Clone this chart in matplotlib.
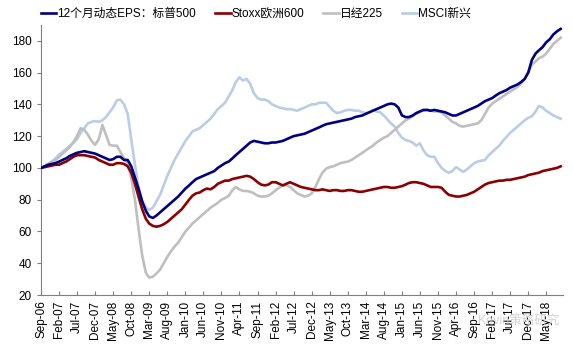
import matplotlib
matplotlib.use("Agg")
import matplotlib.pyplot as plt
import pandas as pd

# monthly values, Sep-06 .. Sep-18 (index 100 = Sep-06)
start = "2006-09-01"

sp500 = [100, 101, 102, 102.5, 103, 104, 105, 106, 107.5, 108.5,
         109.5, 110, 110.5, 110, 109.5, 109, 108, 107, 106, 105,
         105.5, 107, 107, 105, 105, 101, 94, 87, 79, 73,
         69.5, 68.5, 70, 72, 74, 76, 78, 80, 82, 84.5,
         87, 89, 91, 93, 94, 95, 96, 97, 98, 100,
         101.5, 103, 104, 106, 108, 110, 112, 114, 116, 117,
         116.5, 116, 115.5, 115.5, 116, 116, 116.5, 117, 118, 119,
         120, 120.5, 121, 121.5, 122.5, 123.5, 124.5, 125.5, 126.5, 127.5,
         128, 128.5, 129, 129.5, 130, 130.5, 131, 132, 132.5, 133,
         134, 135, 136, 137, 138, 139, 140, 140.5, 140, 138,
         133, 132, 132, 133, 134.5, 135.5, 136.5, 136.5, 136, 136.5,
         136, 135.5, 135, 134, 133, 133, 134, 135, 136, 137,
         138, 139, 140.5, 142, 143, 144, 145.5, 147, 148, 149,
         150.5, 151.5, 152.5, 154, 156, 160, 168, 172, 174, 176,
         179, 181, 184, 186, 187.5]

stoxx600 = [100, 100.5, 101, 101.5, 102, 102, 103, 104, 105.5, 107,
            108, 108, 108, 107.5, 107, 106.5, 105, 104, 103, 102,
            102, 103, 103, 102.5, 101, 97, 90, 82, 74, 68,
            65, 63.5, 63, 63.5, 64.5, 66, 68, 70, 72, 74,
            77, 80, 82.5, 84, 84.5, 86, 87, 86.5, 88, 90,
            91, 92, 92, 93, 93.5, 94, 94.5, 95, 94.5, 93,
            91, 89.5, 89, 89.5, 91, 91, 90, 89, 90, 91,
            90, 89, 88, 87.5, 87, 86.5, 86, 86, 86.5, 86,
            85.5, 86, 86, 85.5, 85.5, 86, 86, 85.5, 85, 85,
            85.5, 86, 86.5, 87, 87.5, 88, 88, 87.5, 87.5, 88,
            88.5, 89.5, 90.5, 91, 91, 90.5, 90, 89, 88, 88,
            88, 87.5, 85, 83, 82.5, 82, 82, 82.5, 83, 84,
            85, 86.5, 88, 89.5, 90.5, 91, 91.5, 92, 92, 92.5,
            92.5, 93, 93.5, 94, 94.5, 95.5, 96, 96.5, 97, 98,
            98.5, 99, 99.5, 100, 101]

nikkei225 = [100, 101, 102.5, 104, 105, 107, 109, 111, 113, 116,
             120, 125, 124, 121, 117, 114.5, 118, 127, 121, 114.5,
             114, 114, 110, 106, 103, 94, 80, 62, 45, 34,
             31, 31.5, 33.5, 36, 40, 44, 47.5, 50.5, 53, 56.5,
             60, 62.5, 65, 67, 69, 71, 73, 75, 76.5, 78,
             80, 81, 82.5, 86, 88, 86.5, 85.5, 85.5, 85, 84,
             82.5, 82, 82, 82.5, 84, 86, 87.5, 89, 89, 88,
             86, 84, 83, 82, 82.5, 84, 88, 93, 97, 99.5,
             100.5, 101, 102, 103, 103.5, 104, 105, 106.5, 108, 109.5,
             111, 112.5, 114, 116, 117.5, 119, 120, 122, 124, 126,
             128, 130, 131, 132.5, 134, 135.5, 136, 136.5, 136, 135.5,
             135.5, 135, 133, 131, 129, 128, 126.5, 126, 126.5, 127,
             127.5, 128, 130, 134, 138, 140.5, 142, 143.5, 145, 146.5,
             148, 149.5, 151, 153, 156, 160, 165, 167, 169, 170,
             172, 175, 178, 180, 182]

msci_em = [100, 101, 102.5, 104, 106, 108.5, 110, 112, 114, 116,
           118, 122, 125, 128, 129, 129.5, 129, 130, 132, 135,
           138, 142.5, 143, 140, 134, 118, 102, 88, 79, 75,
           73.5, 75, 79, 83, 89, 95, 100, 105, 109, 113,
           117, 120, 123, 124, 125, 127, 129, 131, 134, 137,
           139, 141, 145, 149, 154, 157, 155, 156, 153, 147,
           144, 143, 143, 142, 140, 139, 138, 137.5, 137, 137,
           136.5, 136, 137, 138, 139, 140, 140, 141, 141, 141,
           138.5, 136, 134.5, 135, 136, 136.5, 136.5, 136, 136, 135,
           134.5, 135, 136.5, 135.5, 135, 133, 130.5, 128, 126, 122,
           119, 117.5, 117, 116, 114, 115.5, 111, 108, 107, 107,
           103, 100, 98, 97, 98, 100.5, 99, 97.5, 99, 101,
           103, 104, 104.5, 105, 108, 110, 112, 114, 117, 119.5,
           122, 124, 126, 128, 130, 131.5, 132.5, 135.5, 139, 138,
           136, 134.5, 133, 132, 131]

labels = ["12个月动态EPS：标普500", "Stoxx欧洲600", "日经225", "MSCI新兴"]
colors = ["#000080", "#8B0000", "#BFBFBF", "#B9CDE5"]

dates = pd.date_range(start, periods=len(sp500), freq="MS")

plt.rcParams['font.family'] = ['Liberation Sans', 'Noto Sans CJK SC', 'DejaVu Sans']

fig = plt.figure(figsize=(5.73, 3.51), dpi=100)
ax = fig.add_axes([0.0716, 0.1595, 0.9109, 0.7695])

series = [sp500, stoxx600, nikkei225, msci_em]
zs = [5, 4, 3, 2]
for vals, lab, c, z in zip(series, labels, colors, zs):
    ax.plot(dates, vals, color=c, lw=1.9, label=lab, zorder=z)

ax.set_ylim(20, 190)
ax.set_yticks(range(20, 181, 20))
ax.set_xlim(pd.Timestamp("2006-09-01"), pd.Timestamp("2018-09-20"))
xt = pd.date_range("2006-09-01", "2018-05-01", freq="5MS")
ax.set_xticks(xt)
ax.set_xticklabels([d.strftime("%b-%y") for d in xt], rotation=90, fontsize=8.5)
ax.tick_params(axis="y", labelsize=8.5, direction="out", length=3, color="#808080")
ax.tick_params(axis="x", direction="in", length=3, color="#808080", pad=4)

for s in ["top", "right"]:
    ax.spines[s].set_visible(False)
for s in ["left", "bottom"]:
    ax.spines[s].set_color("#808080")
    ax.spines[s].set_linewidth(0.8)

leg = fig.legend(loc="upper center", bbox_to_anchor=(0.447, 1.0), ncol=4, frameon=False,
                 fontsize=8.5, handlelength=1.3, handletextpad=0.1, columnspacing=1.6,
                 borderaxespad=0.3)

# watermark
fig.text(0.835, 0.075, "Kevin策略研究", fontsize=9, color="#C8C8C8", alpha=0.8)

fig.savefig("out.png", dpi=100)
